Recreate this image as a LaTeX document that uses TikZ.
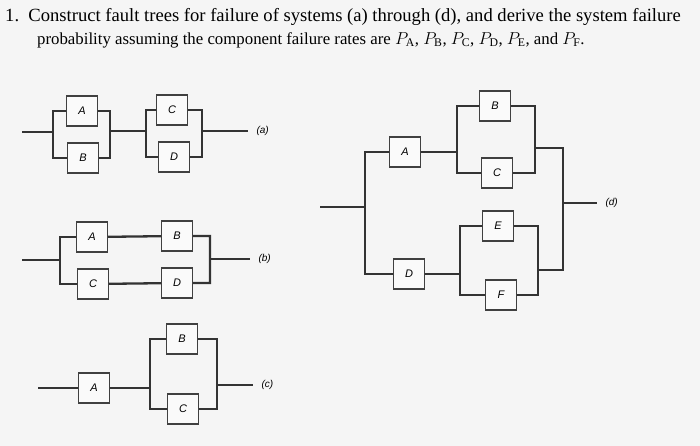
\documentclass[tikz,border=0pt]{standalone}
\usepackage{fontspec}
\setmainfont{Liberation Serif}
\setsansfont{Liberation Sans}
\begin{document}
\begin{tikzpicture}[x=1pt,y=-1pt,
  wire/.style={draw=black!80,line width=2.3pt},
  comp/.style={draw=black!75,line width=1.3pt,fill=white!96!gray,minimum width=31pt,minimum height=30pt,inner sep=0pt,font=\sffamily\itshape\fontsize{11}{11}\selectfont},
  tag/.style={font=\sffamily\itshape\fontsize{10}{10}\selectfont,anchor=west}]
\fill[gray!8] (0,0) rectangle (700,446);
\useasboundingbox (0,0) rectangle (700,446);
\node[anchor=west,font=\fontsize{18.6}{18.6}\selectfont,inner sep=0pt] (t1) at (5,17) {1.\ \ Construct fault trees for failure of systems (a) through (d), and derive the system failure};
\node[anchor=west,font=\fontsize{16.8}{16.8}\selectfont,inner sep=0pt] (t2) at (37,40) {probability assuming the component failure rates are $P_{\mathrm A}$, $P_{\mathrm B}$, $P_{\mathrm C}$, $P_{\mathrm D}$, $P_{\mathrm E}$, and $P_{\mathrm F}$.};
% (a)
\coordinate (aI) at (22,132); \coordinate (aL) at (53,132); \coordinate (aM) at (110,131);
\coordinate (aM2) at (146,131); \coordinate (aR) at (202,131); \coordinate (aO) at (248,131);
\draw[wire] (aI) -- (aL);
\draw[wire] (82,111) -| (aL) |- (83,158);
\draw[wire] (82,111) -| (aM) |- (83,158);
\draw[wire] (aM) -- (aM2);
\draw[wire] (172,110) -| (aM2) |- (174,157);
\draw[wire] (172,110) -| (aR) |- (174,157);
\draw[wire] (aR) -- (aO);
\node[comp] (aA) at (82,111) {A};
\node[comp] (aB) at (83,158) {B};
\node[comp] (aC) at (172,110) {C};
\node[comp] (aD) at (174,157) {D};
\node[tag] (la) at (253,131) {(a)};
% (b)
\coordinate (bI) at (22,260); \coordinate (bL) at (60,260); \coordinate (bR) at (210,259); \coordinate (bO) at (250,259);
\draw[wire] (bI) -- (bL);
\draw[wire] (92,237) -| (bL) |- (93,284);
\draw[wire] (92,237) -- (177,236) -| (bR) |- (177,283) -- (93,284);
\draw[wire] (bR) -- (bO);
\node[comp] (bA) at (92,237) {A};
\node[comp] (bB) at (177,236) {B};
\node[comp] (bC) at (93,284) {C};
\node[comp] (bD) at (177,283) {D};
\node[tag] (lb) at (255,259) {(b)};
% (c)
\coordinate (cI) at (38,388); \coordinate (cL) at (150,388); \coordinate (cR) at (217,385); \coordinate (cO) at (253,385);
\draw[wire] (cI) -- (cL);
\draw[wire] (182,339) -| (cL) |- (183,409);
\draw[wire] (182,339) -| (cR) |- (183,409);
\draw[wire] (cR) -- (cO);
\node[comp] (cA) at (94,388) {A};
\node[comp] (cB) at (182,339) {B};
\node[comp] (cC) at (183,409) {C};
\node[tag] (lc) at (258,385) {(c)};
% (d)
\coordinate (dI) at (320,207); \coordinate (dL) at (365,207);
\coordinate (dM1) at (457,152); \coordinate (dM2) at (460,274);
\coordinate (dN1) at (535,148); \coordinate (dN2) at (538,270);
\coordinate (dT) at (563,148); \coordinate (dR) at (563,203); \coordinate (dBo) at (563,270);
\coordinate (dO) at (597,203);
\draw[wire] (dI) -- (dL);
\draw[wire] (405,152) -| (dL) |- (409,274);
\draw[wire] (405,152) -- (dM1);
\draw[wire] (495,106) -| (dM1) |- (497,173);
\draw[wire] (495,106) -| (dN1) |- (497,173);
\draw[wire] (409,274) -- (dM2);
\draw[wire] (498,226) -| (dM2) |- (501,295);
\draw[wire] (498,226) -| (dN2) |- (501,295);
\draw[wire] (dN1) -- (dT) -- (dR) -- (dBo) -- (dN2);
\draw[wire] (dR) -- (dO);
\node[comp] (dA) at (405,152) {A};
\node[comp] (dB) at (495,106) {B};
\node[comp] (dC) at (497,173) {C};
\node[comp] (dD) at (409,274) {D};
\node[comp] (dE) at (498,226) {E};
\node[comp] (dF) at (501,295) {F};
\node[tag] (ld) at (602,203) {(d)};
\end{tikzpicture}
\end{document}
